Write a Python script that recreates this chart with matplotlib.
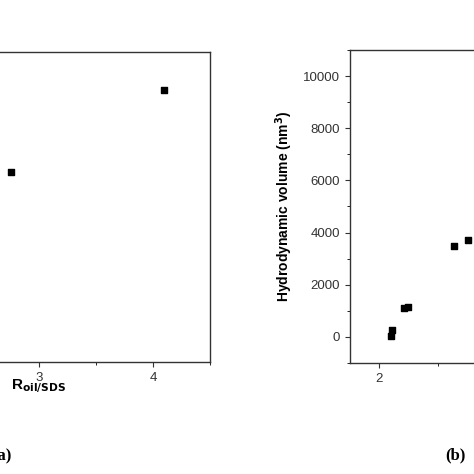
import matplotlib
matplotlib.use("Agg")
import matplotlib.pyplot as plt
from matplotlib.ticker import MultipleLocator

plt.rcParams['font.family'] = ['Liberation Sans', 'DejaVu Sans']

# Panel (a) data
ra_x = [2.75, 4.10]
ra_y = [6360, 9540]
# Panel (b) data
rb_x = [2.10, 2.11, 2.21, 2.24, 2.63, 2.75]
rb_y = [50, 270, 1100, 1150, 3500, 3700]
yticks = [0, 2000, 4000, 6000, 8000, 10000]

W = H = 474
fig = plt.figure(figsize=(4.74, 4.74), dpi=100)

def ax_at(l, t, r, b):
    return fig.add_axes([l / W, 1 - b / H, (r - l) / W, (b - t) / H])

a = ax_at(-132, 52, 210, 362)
a.scatter(ra_x, ra_y, marker='s', s=22, color='black')
a.set_xlim(1.5, 4.5)
a.set_ylim(-1000, 11000)
a.set_yticks([])
a.xaxis.set_major_locator(MultipleLocator(1))
a.xaxis.set_minor_locator(MultipleLocator(0.5))
a.set_xlabel('R$_{\\mathbf{oil/SDS}}$', fontsize=11, fontweight='bold', labelpad=-5)

b = ax_at(350, 50, 674, 363)
b.scatter(rb_x, rb_y, marker='s', s=22, color='black')
b.set_xlim(1.75, 4.5)
b.set_ylim(-1000, 11000)
b.set_yticks(yticks)
b.yaxis.set_minor_locator(MultipleLocator(1000))
b.xaxis.set_major_locator(MultipleLocator(1))
b.xaxis.set_minor_locator(MultipleLocator(0.5))
b.set_ylabel('Hydrodynamic volume (nm$^\\mathbf{3}$)', fontsize=10, fontweight='bold', labelpad=6)
b.set_xlabel('R$_{\\mathbf{oil/SDS}}$', fontsize=11, fontweight='bold', labelpad=-5)

for ax in (a, b):
    ax.tick_params(direction='out', labelsize=9.5, color='#333333', labelcolor='#333333')
    for s in ax.spines.values():
        s.set_linewidth(1.0)
        s.set_color('#333333')

fig.text(12 / W, 1 - 456 / H, '(a)', ha='right', va='center', fontsize=12,
         family='Liberation Serif', fontweight='bold')
fig.text(455 / W, 1 - 455 / H, '(b)', ha='center', va='center', fontsize=12,
         family='Liberation Serif', fontweight='bold')

fig.savefig('out.png', dpi=100)
